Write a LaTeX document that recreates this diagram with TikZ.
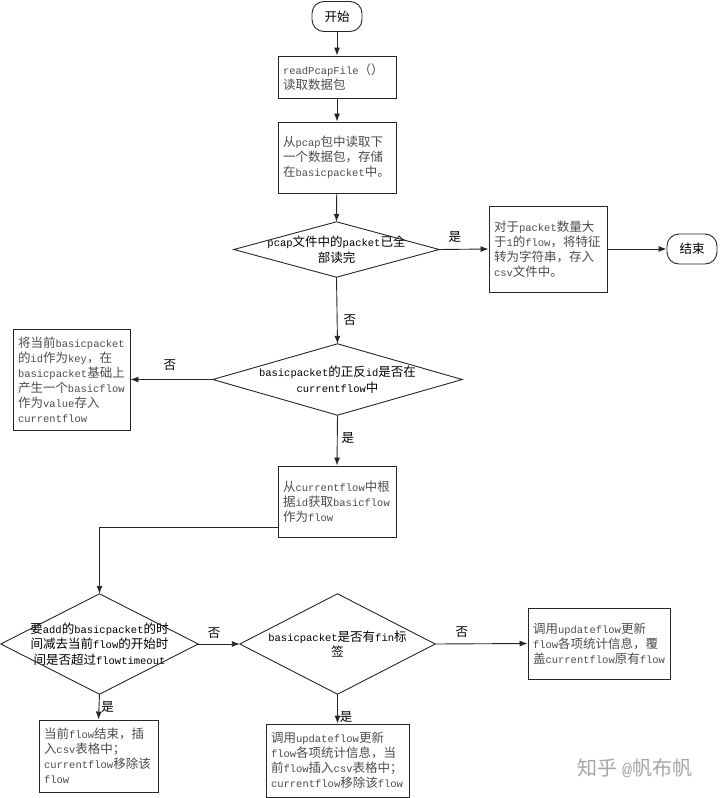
\documentclass[tikz,border=0pt]{standalone}
\usepackage{fontspec}
\setmainfont{Liberation Mono}[Scale=0.84]
\newfontfamily\cjkf{Noto Sans CJK SC}
\newfontfamily\latf{Liberation Mono}[Scale=0.84]
\usetikzlibrary{arrows.meta}
\makeatletter
\count@="3000
\loop \XeTeXcharclass\count@=1 \advance\count@ by 1 \ifnum\count@<"A000 \repeat
\count@="FF00
\loop \XeTeXcharclass\count@=1 \advance\count@ by 1 \ifnum\count@<"FF60 \repeat
\makeatother
\XeTeXinterchartoks 0 1 = {\cjkf}
\XeTeXinterchartoks 4095 1 = {\cjkf}
\XeTeXinterchartoks 1 0 = {\latf}
\XeTeXinterchartoks 4095 0 = {\latf}
\XeTeXinterchartokenstate=1
\tikzset{
  base/.style={font=\fontsize{12.5}{15}\selectfont},
  proc/.style={base, draw=black!85, line width=0.9pt, rectangle, inner xsep=5pt, inner ysep=3pt, align=left, text=black!70},
  term/.style={base, draw=black!85, line width=0.9pt, rectangle, rounded corners=12pt, minimum width=50pt, minimum height=30pt, inner sep=0pt},
  dia/.style={base, rectangle, inner sep=0pt, align=center, text=black, font=\fontsize{12.5}{15.5}\selectfont},
  arr/.style={draw=black!85, line width=0.9pt, -{Latex[length=8pt,width=6pt]}},
  lab/.style={base, inner sep=1pt, text=black},
}
\begin{document}
\begin{tikzpicture}[x=1pt,y=-1pt]
\useasboundingbox (0,0) rectangle (720,798);
% nodes
\node[term] (start) at (337,16.5) {开始};
\node[proc, text width=108pt, minimum height=42pt] (r1) at (337,77) {readPcapFile（）\\读取数据包};
\node[proc, text width=108pt, minimum height=71pt] (r2) at (337,157.5) {从pcap包中读取下\\一个数据包，存储\\在basicpacket中。};
\node[dia, minimum width=205pt, minimum height=55pt] (d1) at (336.5,249.5) {pcap文件中的packet已全\\部读完};
\node[proc, text width=108pt, minimum height=86pt] (e1) at (548,249) {对于packet数量大\\于1的flow，将特征\\转为字符串，存入\\csv文件中。};
\node[term] (end) at (692,249) {结束};
\node[dia, minimum width=249pt, minimum height=71pt] (d2) at (337.5,379.5) {basicpacket的正反id是否在\\currentflow中};
\node[proc, text width=107pt, minimum height=101pt] (l1) at (71.5,379.5) {将当前basicpacket\\的id作为key，在\\basicpacket基础上\\产生一个basicflow\\作为value存入\\currentflow};
\node[proc, text width=108pt, minimum height=71pt] (r3) at (337,501.5) {从currentflow中根\\据id获取basicflow\\作为flow};
\node[dia, minimum width=197pt, minimum height=100pt] (d3) at (99.5,644) {要add的basicpacket的时\\间减去当前flow的开始时\\间是否超过flowtimeout};
\node[dia, minimum width=195pt, minimum height=100pt] (d4) at (337.5,644) {basicpacket是否有fin标\\签};
\node[proc, text width=132pt, minimum height=71pt] (r4) at (599,643.5) {调用updateflow更新\\flow各项统计信息，覆\\盖currentflow原有flow};
\node[proc, text width=109pt, minimum height=72pt] (l2) at (98.5,756) {当前flow结束，插\\入csv表格中；\\currentflow移除该\\flow};
\node[proc, text width=133pt, minimum height=73pt] (r5) at (337.5,760.5) {调用updateflow更新\\flow各项统计信息，当\\前flow插入csv表格中；\\currentflow移除该flow};
\node[base, text=black!35, font=\fontsize{20}{22}\selectfont] (wm) at (635,768) {知乎 @帆布帆};
% diamonds outlines
\foreach \n in {d1,d2,d3,d4}
  \draw[draw=black!85, line width=0.9pt] (\n.west) -- (\n.north) -- (\n.east) -- (\n.south) -- cycle;
% connectors
\coordinate (j) at (278,527);
\draw[arr] (start) -- (r1);
\draw[arr] (r1) -- (r2);
\draw[arr] (r2) -- (d1.north);
\draw[arr] (d1.east) -- node[lab, pos=0.32, above=5pt] {是} (e1.west);
\draw[arr] (e1.east) -- (end.west);
\draw[arr] (d1.south) -- node[lab, pos=0.64, right=5pt] {否} (d2.north);
\draw[arr] (d2.west) -- node[lab, pos=0.52, above=8pt] {否} (l1.east);
\draw[arr] (d2.south) -- node[lab, pos=0.45, right=3pt] {是} (r3.north);
\draw[arr] (j) -| (d3.north);
\draw[arr] (d3.east) -- node[lab, pos=0.38, above=4pt] {否} (d4.west);
\draw[arr] (d3.south) -- node[lab, pos=0.5, right=1pt] {是} (l2.north);
\draw[arr] (d4.east) -- node[lab, pos=0.29, above=5pt] {否} (r4.west);
\draw[arr] (d4.south) -- node[lab, pos=0.77, right=1pt] {是} (r5.north);
\end{tikzpicture}
\end{document}
